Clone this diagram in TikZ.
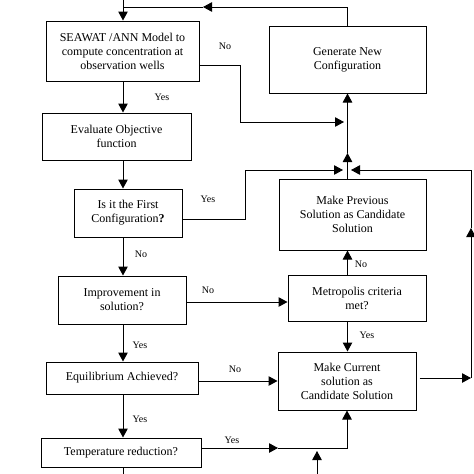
\documentclass[tikz,border=0pt]{standalone}
\usepackage{fontspec}
\setmainfont{Liberation Serif}
\usetikzlibrary{arrows.meta}

\tikzset{
  box/.style={draw, align=center, inner sep=0pt, font=\fontsize{12}{14}\selectfont},
  lab/.style={font=\fontsize{10}{12}\selectfont},
  arr/.style={-{Triangle[length=9pt,width=9.5pt]}},
}

\begin{document}
\begin{tikzpicture}[x=1pt,y=-1pt,line width=1pt]
\useasboundingbox (0,0) rectangle (474,474);

% left column
\node[box, minimum width=153pt, minimum height=60pt] (seawat) at (122.5,51) {SEAWAT /ANN Model to\\compute concentration at\\observation wells};
\node[box, minimum width=149pt, minimum height=47pt] (evaluate) at (116.5,136.5) {Evaluate Objective\\function};
\node[box, minimum width=108pt, minimum height=48pt] (first) at (128,213) {Is it the First\\Configuration\textbf{?}};
\node[box, minimum width=128pt, minimum height=48pt] (improve) at (122,300) {Improvement in\\solution?};
\node[box, minimum width=152pt, minimum height=32pt] (equil) at (122,378) {Equilibrium Achieved?};
\node[box, minimum width=160pt, minimum height=29pt] (temp) at (121,452.5) {Temperature reduction?};

% right column
\node[box, minimum width=157pt, minimum height=67pt] (gen) at (347.5,59.5) {Generate New\\Configuration};
\node[box, minimum width=147pt, minimum height=71pt] (prev) at (352.5,214.5) {Make Previous\\Solution as Candidate\\Solution};
\node[box, minimum width=138pt, minimum height=46pt] (metro) at (357,298) {Metropolis criteria\\met?};
\node[box, minimum width=138pt, minimum height=58pt] (current) at (347,381) {Make Current\\solution as\\Candidate Solution};

\coordinate (t0) at (123,0);
\coordinate (tj) at (123,7);
\coordinate (ta) at (203,7);
\coordinate (c1) at (240,122);
\coordinate (m1) at (344,122);
\coordinate (c2) at (245,170);
\coordinate (ml) at (343,170);
\coordinate (mr) at (351,170);
\coordinate (mu) at (347.5,153);
\coordinate (r1) at (471,378);
\coordinate (r2) at (471,228);
\coordinate (t1) at (278,448);
\coordinate (b0) at (123,474);
\coordinate (b1) at (317,474);
\coordinate (b2) at (317,451);

% down the left column
\draw[arr] (t0) -- (seawat.north -| t0);
\draw[arr] (seawat.south -| t0) -- (evaluate.north -| t0);
\draw[arr] (evaluate.south -| t0) -- (first.north -| t0);
\draw[arr] (first.south -| t0) -- (improve.north -| t0);
\draw[arr] (improve.south -| t0) -- (equil.north -| t0);
\draw[arr] (equil.south -| t0) -- (temp.north -| t0);
\draw (temp.south -| t0) -- (b0);

% loops
\draw[arr] (gen.north) |- (ta);
\draw (ta) -- (tj);
\draw[arr] ([yshift=-14pt]seawat.east) -| (c1) -- (m1);
\draw[arr] ([yshift=-6pt]first.east) -| (c2) -- (ml);
\draw[arr] (prev.north -| gen.south) -- (mu);
\draw[arr] (mu) -- (gen.south);
\draw[arr] ([yshift=-2pt]improve.east) -- ([yshift=-2pt]improve.east -| metro.west);
\draw[arr] (metro.north -| gen.south) -- (prev.south -| gen.south);
\draw[arr] (metro.south -| gen.south) -- (current.north -| gen.south);
\draw[arr] (equil.east |- current.west) -- (current.west);
\draw[arr] ([yshift=4.5pt]temp.east) -- (t1);
\draw[arr] (t1) -| (current.south);
\draw[arr] ([xshift=3pt,yshift=3pt]current.east) -- (r1);
\draw[arr] (r1) -- (r2);
\draw[arr] (r2) |- (mr);
\draw[arr] (b1) -- (b2);

% labels
\node[lab] (y1) at (162,97) {Yes};
\node[lab] (n1) at (225,46) {No};
\node[lab] (y2) at (208,199) {Yes};
\node[lab] (n2) at (141,254) {No};
\node[lab] (n3) at (208,290) {No};
\node[lab] (y3) at (140,345) {Yes};
\node[lab] (n4) at (235,369) {No};
\node[lab] (y4) at (140,419) {Yes};
\node[lab] (y5) at (232,440) {Yes};
\node[lab] (n5) at (361,264) {No};
\node[lab] (y6) at (367,335) {Yes};
\end{tikzpicture}
\end{document}
